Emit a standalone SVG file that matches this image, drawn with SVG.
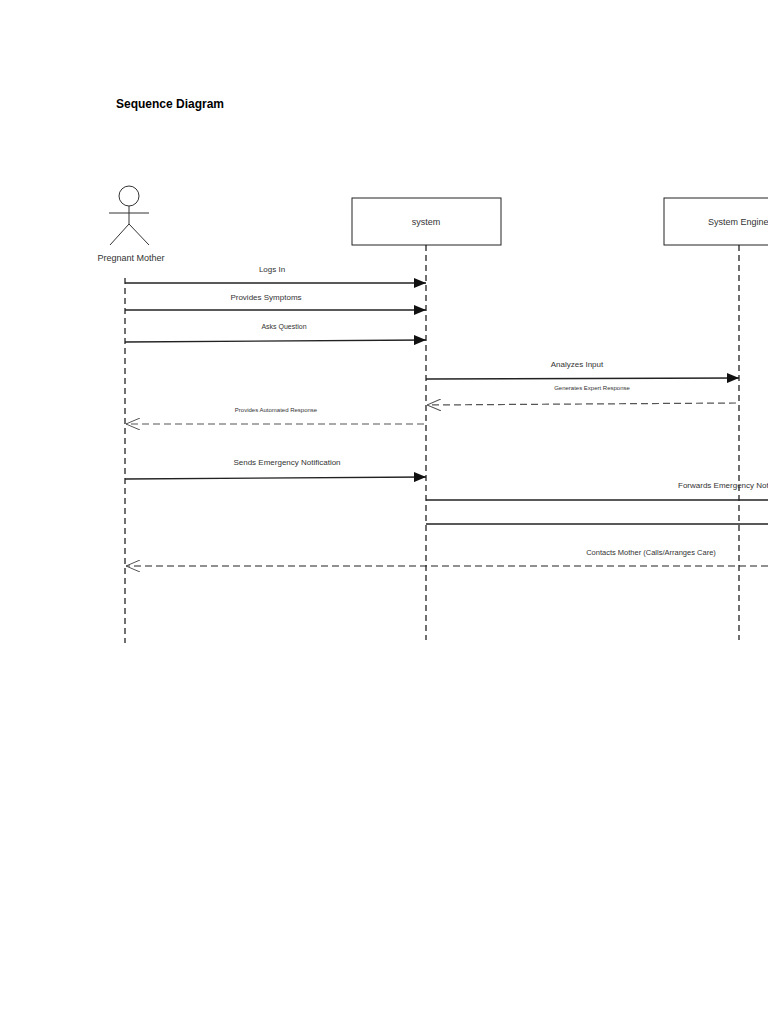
<svg xmlns="http://www.w3.org/2000/svg" width="768" height="1024" viewBox="0 0 768 1024">
<style>
text{font-family:"Liberation Sans",Arial,sans-serif;fill:#333}
.life{stroke:#111;stroke-width:1.2;stroke-dasharray:6,4;fill:none}
.msg{stroke:#222;stroke-width:1.3;fill:none}
.ret{stroke:#555;stroke-width:1.2;stroke-dasharray:7,4;fill:none}
.box{fill:#fff;stroke:#222;stroke-width:1}
</style>
<defs>
<marker id="fa" markerWidth="12" markerHeight="10" refX="12" refY="5" orient="auto" markerUnits="userSpaceOnUse"><path d="M0,0L12,5L0,10z" fill="#111"/></marker>
<marker id="oa" markerWidth="14" markerHeight="12" refX="14" refY="6" orient="auto" markerUnits="userSpaceOnUse"><path d="M0,0L14,6L0,12" fill="none" stroke="#555" stroke-width="1"/></marker>
</defs>
<rect width="768" height="1024" fill="#fff"/>
<text x="116" y="108" font-family="'Open Sans','Liberation Sans',sans-serif" font-size="12" font-weight="bold" style="fill:#000">Sequence Diagram</text>
<g id="mother">
<circle cx="129" cy="196" r="10" fill="none" stroke="#333"/>
<line x1="129" y1="206" x2="129" y2="224" stroke="#333"/>
<line x1="109" y1="213" x2="149" y2="213" stroke="#333"/>
<line x1="129" y1="224" x2="110" y2="245" stroke="#333"/>
<line x1="129" y1="224" x2="149" y2="245" stroke="#333"/>
<text x="131" y="261" font-size="9" text-anchor="middle">Pregnant Mother</text>
</g>
<g id="system">
<rect class="box" x="352" y="198" width="149" height="47"/>
<text x="426" y="225" font-size="9" text-anchor="middle">system</text>
</g>
<g id="engine">
<rect class="box" x="664" y="198" width="120" height="47"/>
<text x="708" y="225" font-size="9">System Engine</text>
</g>
<g id="connectors">
<line class="life" x1="125" y1="278" x2="125" y2="643"/>
<line class="life" x1="426" y1="245" x2="426" y2="640"/>
<line class="life" x1="739" y1="245" x2="739" y2="640"/>
<line class="msg" x1="125" y1="283" x2="426" y2="283" marker-end="url(#fa)"/>
<text x="272" y="272" font-size="8" text-anchor="middle">Logs In</text>
<line class="msg" x1="125" y1="310" x2="426" y2="310" marker-end="url(#fa)"/>
<text x="266" y="300" font-size="8" text-anchor="middle">Provides Symptoms</text>
<line class="msg" x1="125" y1="342" x2="426" y2="340" marker-end="url(#fa)"/>
<text x="284" y="329" font-size="7" text-anchor="middle">Asks Question</text>
<line class="msg" x1="426" y1="379" x2="739" y2="378" marker-end="url(#fa)"/>
<text x="577" y="367" font-size="8" text-anchor="middle">Analyzes Input</text>
<line class="ret" x1="736" y1="403" x2="427" y2="405" marker-end="url(#oa)"/>
<text x="592" y="390" font-size="6" text-anchor="middle">Generates Expert Response</text>
<line class="ret" x1="424" y1="424" x2="126" y2="424" marker-end="url(#oa)"/>
<text x="276" y="412" font-size="6" text-anchor="middle">Provides Automated Response</text>
<line class="msg" x1="125" y1="479" x2="426" y2="477" marker-end="url(#fa)"/>
<text x="287" y="465" font-size="8" text-anchor="middle">Sends Emergency Notification</text>
<line class="msg" x1="426" y1="500" x2="768" y2="500"/>
<text x="678" y="488" font-size="8">Forwards Emergency Notification</text>
<line class="msg" x1="426" y1="524" x2="768" y2="524"/>
<line class="ret" x1="768" y1="566" x2="126" y2="566" marker-end="url(#oa)" style="stroke:#222"/>
<text x="651" y="555" font-size="7.5" text-anchor="middle">Contacts Mother (Calls/Arranges Care)</text>
</g>
</svg>
